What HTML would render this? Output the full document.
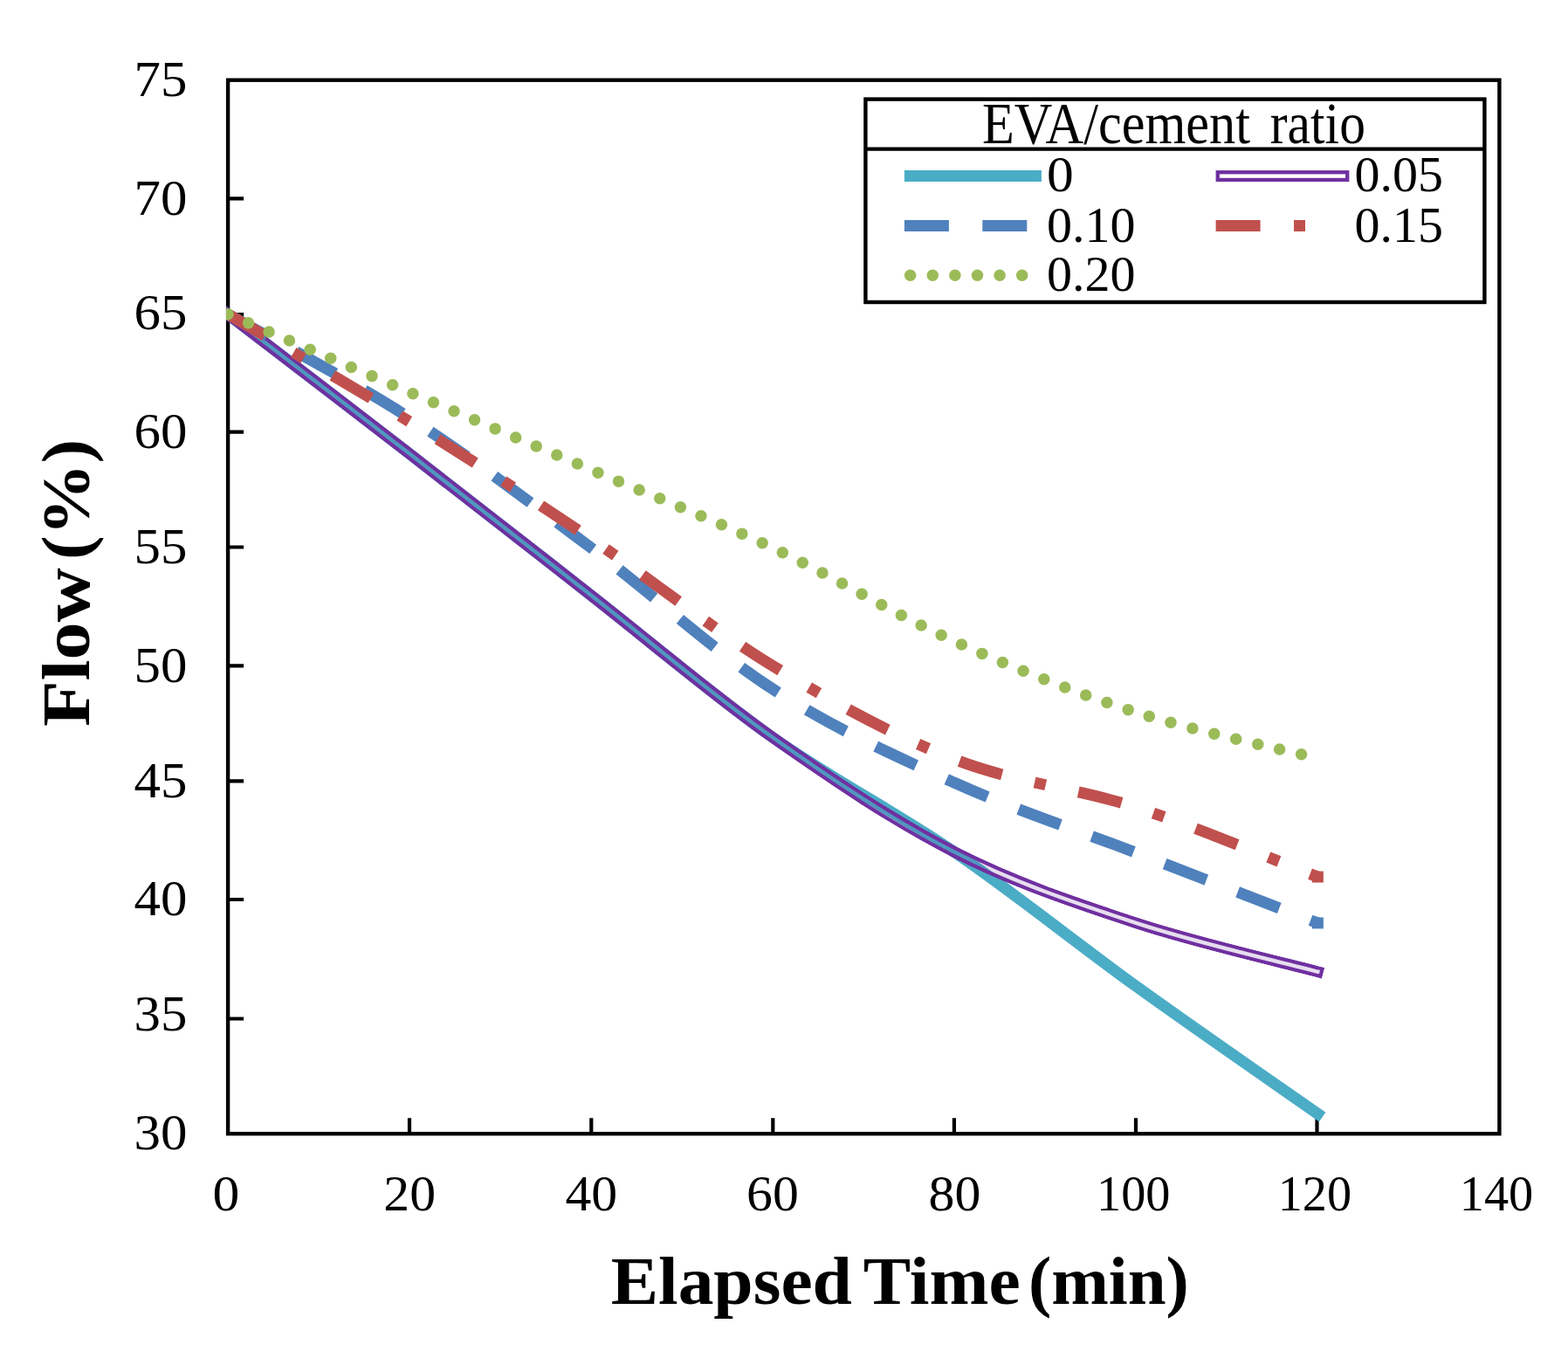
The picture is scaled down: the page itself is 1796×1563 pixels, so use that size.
<!DOCTYPE html><html><head><meta charset="utf-8"><style>html,body{margin:0;padding:0;background:#fff;overflow:hidden}svg{display:block}text{font-family:"Liberation Serif","Times New Roman",serif}</style></head><body>
<svg width="1796" height="1563" viewBox="0 0 1796 1563">
<rect width="1796" height="1563" fill="#fff"/>
<defs><mask id="dbl" maskUnits="userSpaceOnUse" x="0" y="0" width="1796" height="1563"><rect width="1796" height="1563" fill="#000"/>
<path d="M261.10,359.81 C295.77,386.44 399.80,465.94 469.14,519.61 C538.49,573.27 607.84,627.65 677.19,681.81 C746.53,735.97 815.88,795.58 885.23,844.56 C954.58,893.53 1023.92,940.27 1093.27,975.66 C1162.62,1011.05 1231.97,1034.07 1301.31,1056.90 C1370.66,1079.73 1474.68,1103.37 1509.36,1112.67" fill="none" stroke="#fff" stroke-width="13.00" stroke-linecap="square"/>
<path d="M261.10,359.81 C295.77,386.44 399.80,465.94 469.14,519.61 C538.49,573.27 607.84,627.65 677.19,681.81 C746.53,735.97 815.88,795.58 885.23,844.56 C954.58,893.53 1023.92,940.27 1093.27,975.66 C1162.62,1011.05 1231.97,1034.07 1301.31,1056.90 C1370.66,1079.73 1474.68,1103.37 1509.36,1112.67" fill="none" stroke="#2a2a2a" stroke-width="4.40" stroke-linecap="square"/>
</mask></defs>
<rect x="261.10" y="91.70" width="1456.30" height="1206.50" fill="none" stroke="#000" stroke-width="4.40"/>
<path d="M261.10,227.30H279.10M261.10,360.00H279.10M261.10,494.70H279.10M261.10,626.50H279.10M261.10,762.30H279.10M261.10,894.40H279.10M261.10,1030.00H279.10M261.10,1166.50H279.10M469.00,1298.20V1280.20M677.30,1298.20V1280.20M885.30,1298.20V1280.20M1092.90,1298.20V1280.20M1301.00,1298.20V1280.20M1508.50,1298.20V1280.20" stroke="#000" stroke-width="4.20" fill="none"/>
<clipPath id="pc"><rect x="259.00" y="0" width="1796.00" height="1563"/></clipPath>
<g clip-path="url(#pc)">
<path d="M261.10,359.81 C295.77,386.44 399.80,465.94 469.14,519.61 C538.49,573.27 607.84,627.65 677.19,681.81 C746.53,735.97 815.88,795.58 885.23,844.56 C954.58,893.53 1023.92,928.21 1093.27,975.66 C1162.62,1023.12 1231.97,1079.33 1301.31,1129.29 C1370.66,1179.25 1474.68,1251.06 1509.36,1275.41" fill="none" stroke="#4BACC6" stroke-width="13.00" stroke-linejoin="round" stroke-linecap="square"/>
<path d="M261.10,359.81 C295.77,386.44 399.80,465.94 469.14,519.61 C538.49,573.27 607.84,627.65 677.19,681.81 C746.53,735.97 815.88,795.58 885.23,844.56 C954.58,893.53 1023.92,940.27 1093.27,975.66 C1162.62,1011.05 1231.97,1034.07 1301.31,1056.90 C1370.66,1079.73 1474.68,1103.37 1509.36,1112.67" fill="none" stroke="#7030A0" stroke-width="13.00" stroke-linecap="square" mask="url(#dbl)"/>
<path d="M261.10,359.81 C295.77,379.61 399.80,433.99 469.14,478.58 C538.49,523.18 607.84,575.64 677.19,627.39 C746.53,679.13 815.88,744.24 885.23,789.06 C954.58,833.88 1023.92,865.07 1093.27,896.30 C1162.62,927.54 1231.97,949.70 1301.31,976.47 C1370.66,1003.23 1474.68,1043.49 1509.36,1056.90" fill="none" stroke="#4F81BD" stroke-width="13.00" stroke-dasharray="51.00 38.40"/>
<path d="M261.10,359.81 C295.77,380.32 399.80,439.98 469.14,482.87 C538.49,525.77 607.84,570.59 677.19,617.20 C746.53,663.80 815.88,720.47 885.23,762.51 C954.58,804.56 1023.92,842.50 1093.27,869.49 C1162.62,896.48 1231.97,902.02 1301.31,924.45 C1370.66,946.89 1474.68,990.81 1509.36,1004.08" fill="none" stroke="#C0504D" stroke-width="13.00" stroke-dasharray="51.00 38.40 13.00 38.40" stroke-dashoffset="2.00"/>
<path d="M1509.35,1056.90L1509.36,1056.90" stroke="#4F81BD" stroke-width="13.00" stroke-linecap="square"/>
<path d="M1509.35,1004.08L1509.36,1004.08" stroke="#C0504D" stroke-width="13.00" stroke-linecap="square"/>
<path d="M261.10,359.81 C295.77,374.69 399.80,419.42 469.14,449.09 C538.49,478.76 607.84,508.12 677.19,537.84 C746.53,567.55 815.88,594.63 885.23,627.39 C954.58,660.14 1023.92,702.99 1093.27,734.36 C1162.62,765.73 1231.97,793.30 1301.31,815.60 C1370.66,837.90 1474.68,859.39 1509.36,868.15" fill="none" stroke="#9BBB59" stroke-width="13.50" stroke-dasharray="0 25.61" stroke-linecap="round" stroke-dashoffset="0.00"/>
</g>
<text x="214.50" y="109.90" font-size="57.00" text-anchor="end" textLength="60.90" lengthAdjust="spacingAndGlyphs">75</text>
<text x="214.50" y="245.80" font-size="57.00" text-anchor="end" textLength="60.90" lengthAdjust="spacingAndGlyphs">70</text>
<text x="214.50" y="377.30" font-size="57.00" text-anchor="end" textLength="60.90" lengthAdjust="spacingAndGlyphs">65</text>
<text x="214.50" y="513.20" font-size="57.00" text-anchor="end" textLength="60.90" lengthAdjust="spacingAndGlyphs">60</text>
<text x="214.50" y="644.50" font-size="57.00" text-anchor="end" textLength="60.90" lengthAdjust="spacingAndGlyphs">55</text>
<text x="214.50" y="781.00" font-size="57.00" text-anchor="end" textLength="60.90" lengthAdjust="spacingAndGlyphs">50</text>
<text x="214.50" y="912.70" font-size="57.00" text-anchor="end" textLength="60.90" lengthAdjust="spacingAndGlyphs">45</text>
<text x="214.50" y="1048.30" font-size="57.00" text-anchor="end" textLength="60.90" lengthAdjust="spacingAndGlyphs">40</text>
<text x="214.50" y="1180.20" font-size="57.00" text-anchor="end" textLength="60.90" lengthAdjust="spacingAndGlyphs">35</text>
<text x="214.50" y="1316.30" font-size="57.00" text-anchor="end" textLength="60.90" lengthAdjust="spacingAndGlyphs">30</text>
<text x="259.00" y="1386.20" font-size="57.00" text-anchor="middle" textLength="30.80" lengthAdjust="spacingAndGlyphs">0</text>
<text x="469.20" y="1386.20" font-size="57.00" text-anchor="middle" textLength="59.70" lengthAdjust="spacingAndGlyphs">20</text>
<text x="677.30" y="1386.20" font-size="57.00" text-anchor="middle" textLength="59.70" lengthAdjust="spacingAndGlyphs">40</text>
<text x="884.90" y="1386.20" font-size="57.00" text-anchor="middle" textLength="59.70" lengthAdjust="spacingAndGlyphs">60</text>
<text x="1093.40" y="1386.20" font-size="57.00" text-anchor="middle" textLength="59.70" lengthAdjust="spacingAndGlyphs">80</text>
<text x="1298.30" y="1386.20" font-size="57.00" text-anchor="middle" textLength="84.40" lengthAdjust="spacingAndGlyphs">100</text>
<text x="1505.90" y="1386.20" font-size="57.00" text-anchor="middle" textLength="84.40" lengthAdjust="spacingAndGlyphs">120</text>
<text x="1714.00" y="1386.20" font-size="57.00" text-anchor="middle" textLength="84.40" lengthAdjust="spacingAndGlyphs">140</text>
<text x="699.66" y="1493.00" font-size="78.40" font-weight="bold" textLength="276.20" lengthAdjust="spacingAndGlyphs">Elapsed</text>
<text x="988.76" y="1493.00" font-size="78.40" font-weight="bold" textLength="179.90" lengthAdjust="spacingAndGlyphs">Time</text>
<text x="1177.88" y="1493.00" font-size="78.40" font-weight="bold" textLength="183.93" lengthAdjust="spacingAndGlyphs">(min)</text>
<text transform="translate(102.30,832.00) rotate(-90)" font-size="78.00" font-weight="bold" textLength="181.80" lengthAdjust="spacingAndGlyphs">Flow</text>
<text transform="translate(102.30,640.90) rotate(-90)" font-size="78.00" font-weight="bold" textLength="137.90" lengthAdjust="spacingAndGlyphs">(%)</text>
<rect x="991.40" y="113.60" width="709.00" height="232.40" fill="#fff" stroke="#000" stroke-width="4.40"/>
<path d="M991.40,170.60H1700.40" stroke="#000" stroke-width="4.40"/>
<text transform="translate(1125.00,163.90) scale(1,1.120)" font-size="60.00" textLength="307.00" lengthAdjust="spacingAndGlyphs">EVA/cement</text>
<text transform="translate(1454.80,163.90) scale(1,1.120)" font-size="60.00" textLength="109.10" lengthAdjust="spacingAndGlyphs">ratio</text>
<path d="M1035.90,201.60H1192.90" stroke="#4BACC6" stroke-width="13.00"/>
<rect x="1394.75" y="197.25" width="148.50" height="8.70" fill="none" stroke="#7030A0" stroke-width="4.30"/>
<path d="M1035.90,258.40H1192.90" stroke="#4F81BD" stroke-width="13.00" stroke-dasharray="51.00 38.40"/>
<path d="M1392.60,258.40H1495.00" stroke="#C0504D" stroke-width="13.00" stroke-dasharray="51.00 38.40 13.00 100.00"/>
<path d="M1035.90,315.30H1192.90" stroke="#9BBB59" stroke-width="13.50" stroke-dasharray="0 25.61" stroke-linecap="round" stroke-dashoffset="-6.75"/>
<text x="1199.00" y="218.90" font-size="57.00" textLength="30.75" lengthAdjust="spacingAndGlyphs">0</text>
<text x="1551.50" y="218.90" font-size="57.00" textLength="101.50" lengthAdjust="spacingAndGlyphs">0.05</text>
<text x="1199.00" y="276.50" font-size="57.00" textLength="101.50" lengthAdjust="spacingAndGlyphs">0.10</text>
<text x="1551.50" y="276.50" font-size="57.00" textLength="101.50" lengthAdjust="spacingAndGlyphs">0.15</text>
<text x="1199.00" y="333.30" font-size="57.00" textLength="101.50" lengthAdjust="spacingAndGlyphs">0.20</text>
</svg></body></html>
